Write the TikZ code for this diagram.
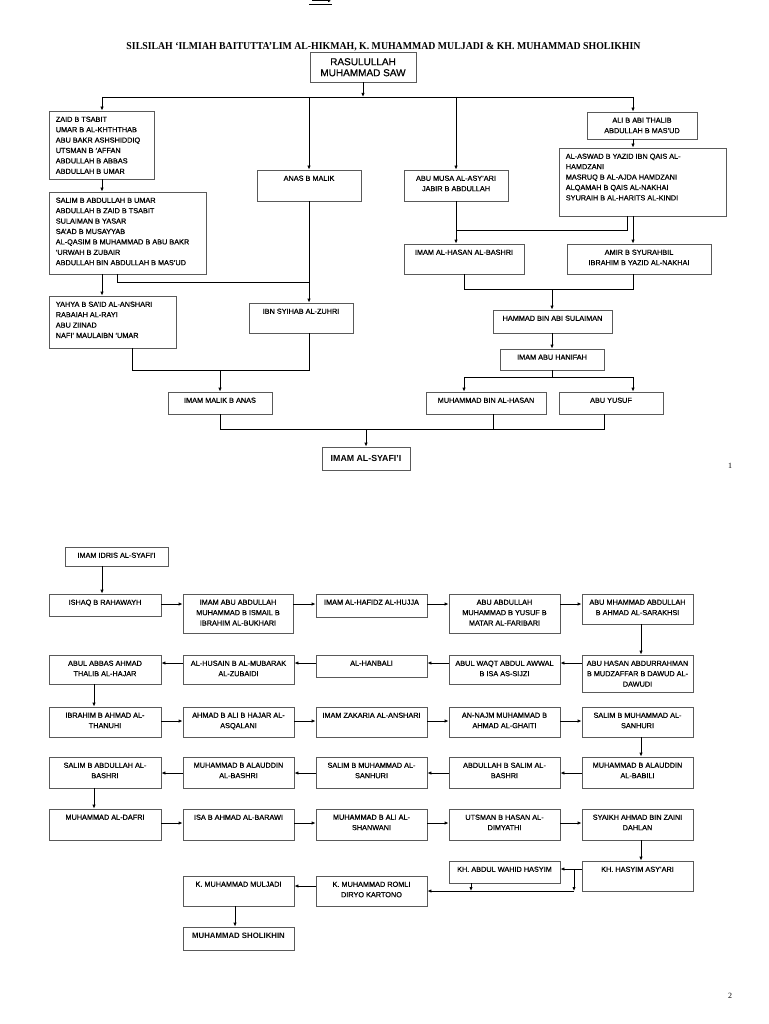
\documentclass[tikz,border=0pt]{standalone}
\usepackage{fontspec}
\usepackage{graphicx}
\setmainfont{Liberation Sans}[UprightFeatures={FakeBold=0.6}]
\newfontfamily\seriffont{Liberation Serif}
\usetikzlibrary{arrows.meta,fit}
\tikzset{
  box/.style={draw=black!65, line width=0.8pt, inner sep=0pt},
  txt/.style={inner sep=0pt, font=\fontsize{7.3}{10.4}\selectfont},
  ln/.style={line width=0.8pt},
  arr/.style={ln, -{Latex[length=4pt,width=3.4pt]}},
}
\newcommand\bx[5]{%
  \coordinate (#1-a) at (#2,#3); \coordinate (#1-b) at (#4,#5);
  \node[box, fit=(#1-a)(#1-b)] (#1) {};}
\newcommand\tc[2]{\node[txt,align=center,anchor=north] (#1-t) at ([yshift=-5.9pt]#1.north) {#2};}
\newcommand\tl[2]{\node[txt,align=left,anchor=north west] (#1-t) at ([xshift=7pt,yshift=-5.9pt]#1.north west) {#2};}
\begin{document}
\begin{tikzpicture}[x=1pt,y=-1pt]
\useasboundingbox (0,0) rectangle (768,1024);
\fill[white] (0,0) rectangle (768,1024);

% small mark at top
\coordinate (mk1) at (309,4); \coordinate (mk2) at (332,4);
\draw[ln] (mk1) -- (mk2);
\coordinate (mk3) at (312,0.8); \coordinate (mk4) at (331,0.8);
\draw[line width=0.6pt,-{Latex[length=3pt,width=3pt]}] (mk3) -- (mk4);

% title
\node[inner sep=0pt, font=\seriffont\bfseries] (title) at (383.5,47)
  {\resizebox{514pt}{7pt}{SILSILAH ‘ILMIAH BAITUTTA’LIM AL-HIKMAH, K. MUHAMMAD MULJADI \& KH. MUHAMMAD SHOLIKHIN}};

% ---------------- page 1 boxes
\bx{rasul}{310}{52}{416}{82}
\node[inner sep=0pt, align=center, anchor=north, font=\fontsize{10}{11}\selectfont] (rasul-t) at ([yshift=-6.4pt]rasul.north) {RASULULLAH\\MUHAMMAD SAW};

\bx{zaid}{49}{111}{154}{179}
\tl{zaid}{ZAID B TSABIT\\UMAR B AL-KHTHTHAB\\ABU BAKR ASHSHIDDIQ\\UTSMAN B ‘AFFAN\\ABDULLAH B ABBAS\\ABDULLAH B UMAR}

\bx{salim}{49}{192}{206}{274}
\tl{salim}{SALIM B ABDULLAH B UMAR\\ABDULLAH B ZAID B TSABIT\\SULAIMAN B YASAR\\SA’AD B MUSAYYAB\\AL-QASIM B MUHAMMAD B ABU BAKR\\‘URWAH B ZUBAIR\\ABDULLAH BIN ABDULLAH B MAS’UD}

\bx{yahya}{49}{296}{176}{348}
\tl{yahya}{YAHYA B SA’ID AL-ANSHARI\\RABAIAH AL-RAYI\\ABU ZIINAD\\NAFI’ MAULAIBN ‘UMAR}

\bx{anas}{257}{170}{361}{201}
\tc{anas}{ANAS B MALIK}

\bx{syihab}{249}{303}{353}{333}
\tc{syihab}{IBN SYIHAB AL-ZUHRI}

\bx{malik}{168}{392}{272}{414}
\tc{malik}{IMAM MALIK B ANAS}

\bx{syafii}{322}{447}{410}{470}
\node[inner sep=0pt, font=\bfseries\fontsize{8.8}{10}\selectfont] (syafii-t) at (syafii.center) {IMAM AL-SYAFI’I};

\bx{musa}{404}{170}{508}{201}
\tc{musa}{ABU MUSA AL-ASY’ARI\\JABIR B ABDULLAH}

\bx{ali}{587}{112}{697}{139}
\tc{ali}{ALI B ABI THALIB\\ABDULLAH B MAS’UD}

\bx{aswad}{559}{148}{726}{216}
\tl{aswad}{AL-ASWAD B YAZID IBN QAIS AL-\\HAMDZANI\\MASRUQ B AL-AJDA HAMDZANI\\ALQAMAH B QAIS AL-NAKHAI\\SYURAIH B AL-HARITS AL-KINDI}

\bx{hasan}{404}{244}{524}{274}
\tc{hasan}{IMAM AL-HASAN AL-BASHRI}

\bx{amir}{567}{244}{711}{274}
\tc{amir}{AMIR B SYURAHBIL\\IBRAHIM B YAZID AL-NAKHAI}

\bx{hammad}{493}{310}{612}{333}
\tc{hammad}{HAMMAD BIN ABI SULAIMAN}

\bx{hanifah}{500}{349}{604}{370}
\tc{hanifah}{IMAM ABU HANIFAH}

\bx{mbh}{426}{392}{546}{414}
\tc{mbh}{MUHAMMAD BIN AL-HASAN}

\bx{yusuf}{559}{392}{663}{414}
\tc{yusuf}{ABU YUSUF}

% ---------------- page 1 connectors
\coordinate (hl) at (0,97);
\draw[arr] (rasul.south) -- (rasul.south |- hl);
\coordinate (hL) at (102,97); \coordinate (hR) at (633,97);
\coordinate (hA) at (309,97); \coordinate (hM) at (456,97);
\draw[ln] (hL) -- (hR);
\draw[arr] (hL) -- (hL |- zaid.north);
\draw[arr] (hA) -- (hA |- anas.north);
\draw[arr] (hM) -- (hM |- musa.north);
\draw[arr] (hR) -- (hR |- ali.north);

\draw[arr] (zaid.south -| hL) -- (hL |- salim.north);
\draw[arr] (salim.south -| hL) -- (hL |- yahya.north);
\coordinate (s2) at (117,282);
\draw[ln] (salim.south -| s2) -- (s2) -- (s2 -| hA);
\draw[arr] (anas.south -| hA) -- (hA |- syihab.north);
\coordinate (y1) at (132,370);
\draw[ln] (yahya.south -| y1) -- (y1) -- (y1 -| hA) -- (hA |- syihab.south);
\coordinate (mj) at (220,370);
\draw[arr] (mj) -- (mj |- malik.north);

\coordinate (b1) at (220,429); \coordinate (b2) at (604,429);
\coordinate (b3) at (493,429); \coordinate (b4) at (366,429);
\draw[ln] (malik.south -| b1) -- (b1) -- (b2) -- (b2 |- yusuf.south);
\draw[ln] (b3) -- (b3 |- mbh.south);
\draw[arr] (b4) -- (b4 |- syafii.north);

\draw[arr] (musa.south -| hM) -- (hM |- hasan.north);
\coordinate (a1) at (627,230);
\draw[ln] (a1 |- aswad.south) -- (a1) -- (a1 -| hM);
\draw[arr] (hR |- ali.south) -- (hR |- aswad.north);
\draw[arr] (hR |- aswad.south) -- (hR |- amir.north);
\coordinate (h1) at (464,289); \coordinate (h2) at (552,289);
\draw[ln] (h1 |- hasan.south) -- (h1) -- (h1 -| hR) -- (hR |- amir.south);
\draw[arr] (h2) -- (h2 |- hammad.north);
\draw[arr] (hammad.south -| h2) -- (h2 |- hanifah.north);
\coordinate (k1) at (552,377); \coordinate (k2) at (464,377); \coordinate (k3) at (633,377);
\draw[ln] (hanifah.south -| k1) -- (k1);
\draw[ln] (k2) -- (k3);
\draw[arr] (k2) -- (k2 |- mbh.north);
\draw[arr] (k3) -- (k3 |- yusuf.north);

\node[inner sep=0pt, font=\seriffont\fontsize{8}{9}\selectfont] (pg1) at (730,466) {1};

% ---------------- page 2 boxes
\bx{idris}{65}{547}{168}{566}
\tc{idris}{IMAM IDRIS AL-SYAFI’I}

\bx{ishaq}{49}{594}{161}{616}
\tc{ishaq}{ISHAQ B RAHAWAYH}
\bx{bukhari}{183}{594}{293}{633}
\tc{bukhari}{IMAM ABU ABDULLAH\\MUHAMMAD B ISMAIL B\\IBRAHIM AL-BUKHARI}
\bx{hujja}{316}{594}{427}{617}
\tc{hujja}{IMAM AL-HAFIDZ AL-HUJJA}
\bx{faribari}{449}{594}{560}{633}
\tc{faribari}{ABU ABDULLAH\\MUHAMMAD B YUSUF B\\MATAR AL-FARIBARI}
\bx{sarakhsi}{582}{594}{693}{624}
\tc{sarakhsi}{ABU MHAMMAD ABDULLAH\\B AHMAD AL-SARAKHSI}

\bx{dawudi}{582}{655}{693}{692}
\tc{dawudi}{ABU HASAN ABDURRAHMAN\\B MUDZAFFAR B DAWUD AL-\\DAWUDI}
\bx{sijzi}{449}{655}{560}{684}
\tc{sijzi}{ABUL WAQT ABDUL AWWAL\\B ISA AS-SIJZI}
\bx{hanbali}{316}{655}{427}{677}
\tc{hanbali}{AL-HANBALI}
\bx{zubaidi}{183}{655}{294}{684}
\tc{zubaidi}{AL-HUSAIN B AL-MUBARAK\\AL-ZUBAIDI}
\bx{abbas}{49}{655}{161}{684}
\tc{abbas}{ABUL ABBAS AHMAD\\THALIB AL-HAJAR}

\bx{thanuhi}{49}{707}{161}{737}
\tc{thanuhi}{IBRAHIM B AHMAD AL-\\THANUHI}
\bx{asqalani}{183}{707}{294}{737}
\tc{asqalani}{AHMAD B ALI B HAJAR AL-\\ASQALANI}
\bx{anshari}{316}{707}{427}{737}
\tc{anshari}{IMAM ZAKARIA AL-ANSHARI}
\bx{ghaiti}{449}{707}{560}{737}
\tc{ghaiti}{AN-NAJM MUHAMMAD B\\AHMAD AL-GHAITI}
\bx{sanhuria}{582}{707}{693}{737}
\tc{sanhuria}{SALIM B MUHAMMAD AL-\\SANHURI}

\bx{babili}{582}{757}{693}{788}
\tc{babili}{MUHAMMAD B ALAUDDIN\\AL-BABILI}
\bx{absalim}{449}{757}{560}{788}
\tc{absalim}{ABDULLAH B SALIM AL-\\BASHRI}
\bx{sanhurib}{316}{757}{427}{788}
\tc{sanhurib}{SALIM B MUHAMMAD AL-\\SANHURI}
\bx{alauddin}{183}{757}{294}{788}
\tc{alauddin}{MUHAMMAD B ALAUDDIN\\AL-BASHRI}
\bx{salimab}{49}{757}{161}{788}
\tc{salimab}{SALIM B ABDULLAH AL-\\BASHRI}

\bx{dafri}{49}{809}{161}{840}
\tc{dafri}{MUHAMMAD AL-DAFRI}
\bx{barawi}{183}{809}{294}{840}
\tc{barawi}{ISA B AHMAD AL-BARAWI}
\bx{shanwani}{316}{809}{427}{840}
\tc{shanwani}{MUHAMMAD B ALI AL-\\SHANWANI}
\bx{dimyathi}{449}{809}{560}{840}
\tc{dimyathi}{UTSMAN B HASAN AL-\\DIMYATHI}
\bx{dahlan}{582}{809}{693}{840}
\tc{dahlan}{SYAIKH AHMAD BIN ZAINI\\DAHLAN}

\bx{hasyim}{582}{861}{693}{891}
\tc{hasyim}{KH. HASYIM ASY’ARI}
\bx{wahid}{449}{861}{560}{883}
\tc{wahid}{KH. ABDUL WAHID HASYIM}
\bx{romli}{316}{876}{427}{906}
\tc{romli}{K. MUHAMMAD ROMLI\\DIRYO KARTONO}
\bx{muljadi}{183}{876}{294}{906}
\tc{muljadi}{K. MUHAMMAD MULJADI}
\bx{sholikhin}{183}{927}{294}{950}
\node[inner sep=0pt, anchor=north, font=\bfseries\fontsize{7.8}{9}\selectfont] (sholikhin-t) at ([yshift=-5.9pt]sholikhin.north) {MUHAMMAD SHOLIKHIN};

% ---------------- page 2 connectors
\coordinate (i1) at (102,0);
\draw[arr] (idris.south -| i1) -- (i1 |- ishaq.north);
\coordinate (r1) at (0,604);
\draw[arr] (ishaq.east |- r1) -- (bukhari.west |- r1);
\draw[arr] (bukhari.east |- r1) -- (hujja.west |- r1);
\draw[arr] (hujja.east |- r1) -- (faribari.west |- r1);
\draw[arr] (faribari.east |- r1) -- (sarakhsi.west |- r1);
\coordinate (c5x) at (641,0);
\draw[arr] (sarakhsi.south -| c5x) -- (c5x |- dawudi.north);
\coordinate (r2) at (0,663);
\draw[arr] (dawudi.west |- r2) -- (sijzi.east |- r2);
\draw[arr] (sijzi.west |- r2) -- (hanbali.east |- r2);
\draw[arr] (hanbali.west |- r2) -- (zubaidi.east |- r2);
\draw[arr] (zubaidi.west |- r2) -- (abbas.east |- r2);
\coordinate (c1x) at (94,0);
\draw[arr] (abbas.south -| c1x) -- (c1x |- thanuhi.north);
\coordinate (r3) at (0,721);
\draw[arr] (thanuhi.east |- r3) -- (asqalani.west |- r3);
\draw[arr] (asqalani.east |- r3) -- (anshari.west |- r3);
\draw[arr] (anshari.east |- r3) -- (ghaiti.west |- r3);
\draw[arr] (ghaiti.east |- r3) -- (sanhuria.west |- r3);
\draw[arr] (sanhuria.south -| c5x) -- (c5x |- babili.north);
\coordinate (r4) at (0,773);
\draw[arr] (babili.west |- r4) -- (absalim.east |- r4);
\draw[arr] (absalim.west |- r4) -- (sanhurib.east |- r4);
\draw[arr] (sanhurib.west |- r4) -- (alauddin.east |- r4);
\draw[arr] (alauddin.west |- r4) -- (salimab.east |- r4);
\draw[arr] (salimab.south -| c1x) -- (c1x |- dafri.north);
\coordinate (r5) at (0,823);
\draw[arr] (dafri.east |- r5) -- (barawi.west |- r5);
\draw[arr] (barawi.east |- r5) -- (shanwani.west |- r5);
\draw[arr] (shanwani.east |- r5) -- (dimyathi.west |- r5);
\draw[arr] (dimyathi.east |- r5) -- (dahlan.west |- r5);
\draw[arr] (dahlan.south -| c5x) -- (c5x |- hasyim.north);
\coordinate (w1) at (574,869); \coordinate (w2) at (574,891); \coordinate (w3) at (471,891);
\draw[arr] (hasyim.west |- w1) -- (wahid.east |- w1);
\draw[arr] (w1) -- (w2);
\draw[arr] (w2) -- (romli.east |- w2);
\draw[arr] (w3 |- wahid.south) -- (w3);
\coordinate (m1) at (0,886);
\draw[arr] (romli.west |- m1) -- (muljadi.east |- m1);
\coordinate (m2) at (235,0);
\draw[arr] (muljadi.south -| m2) -- (m2 |- sholikhin.north);

\node[inner sep=0pt, font=\seriffont\fontsize{8}{9}\selectfont] (pg2) at (730,996) {2};
\end{tikzpicture}
\end{document}
